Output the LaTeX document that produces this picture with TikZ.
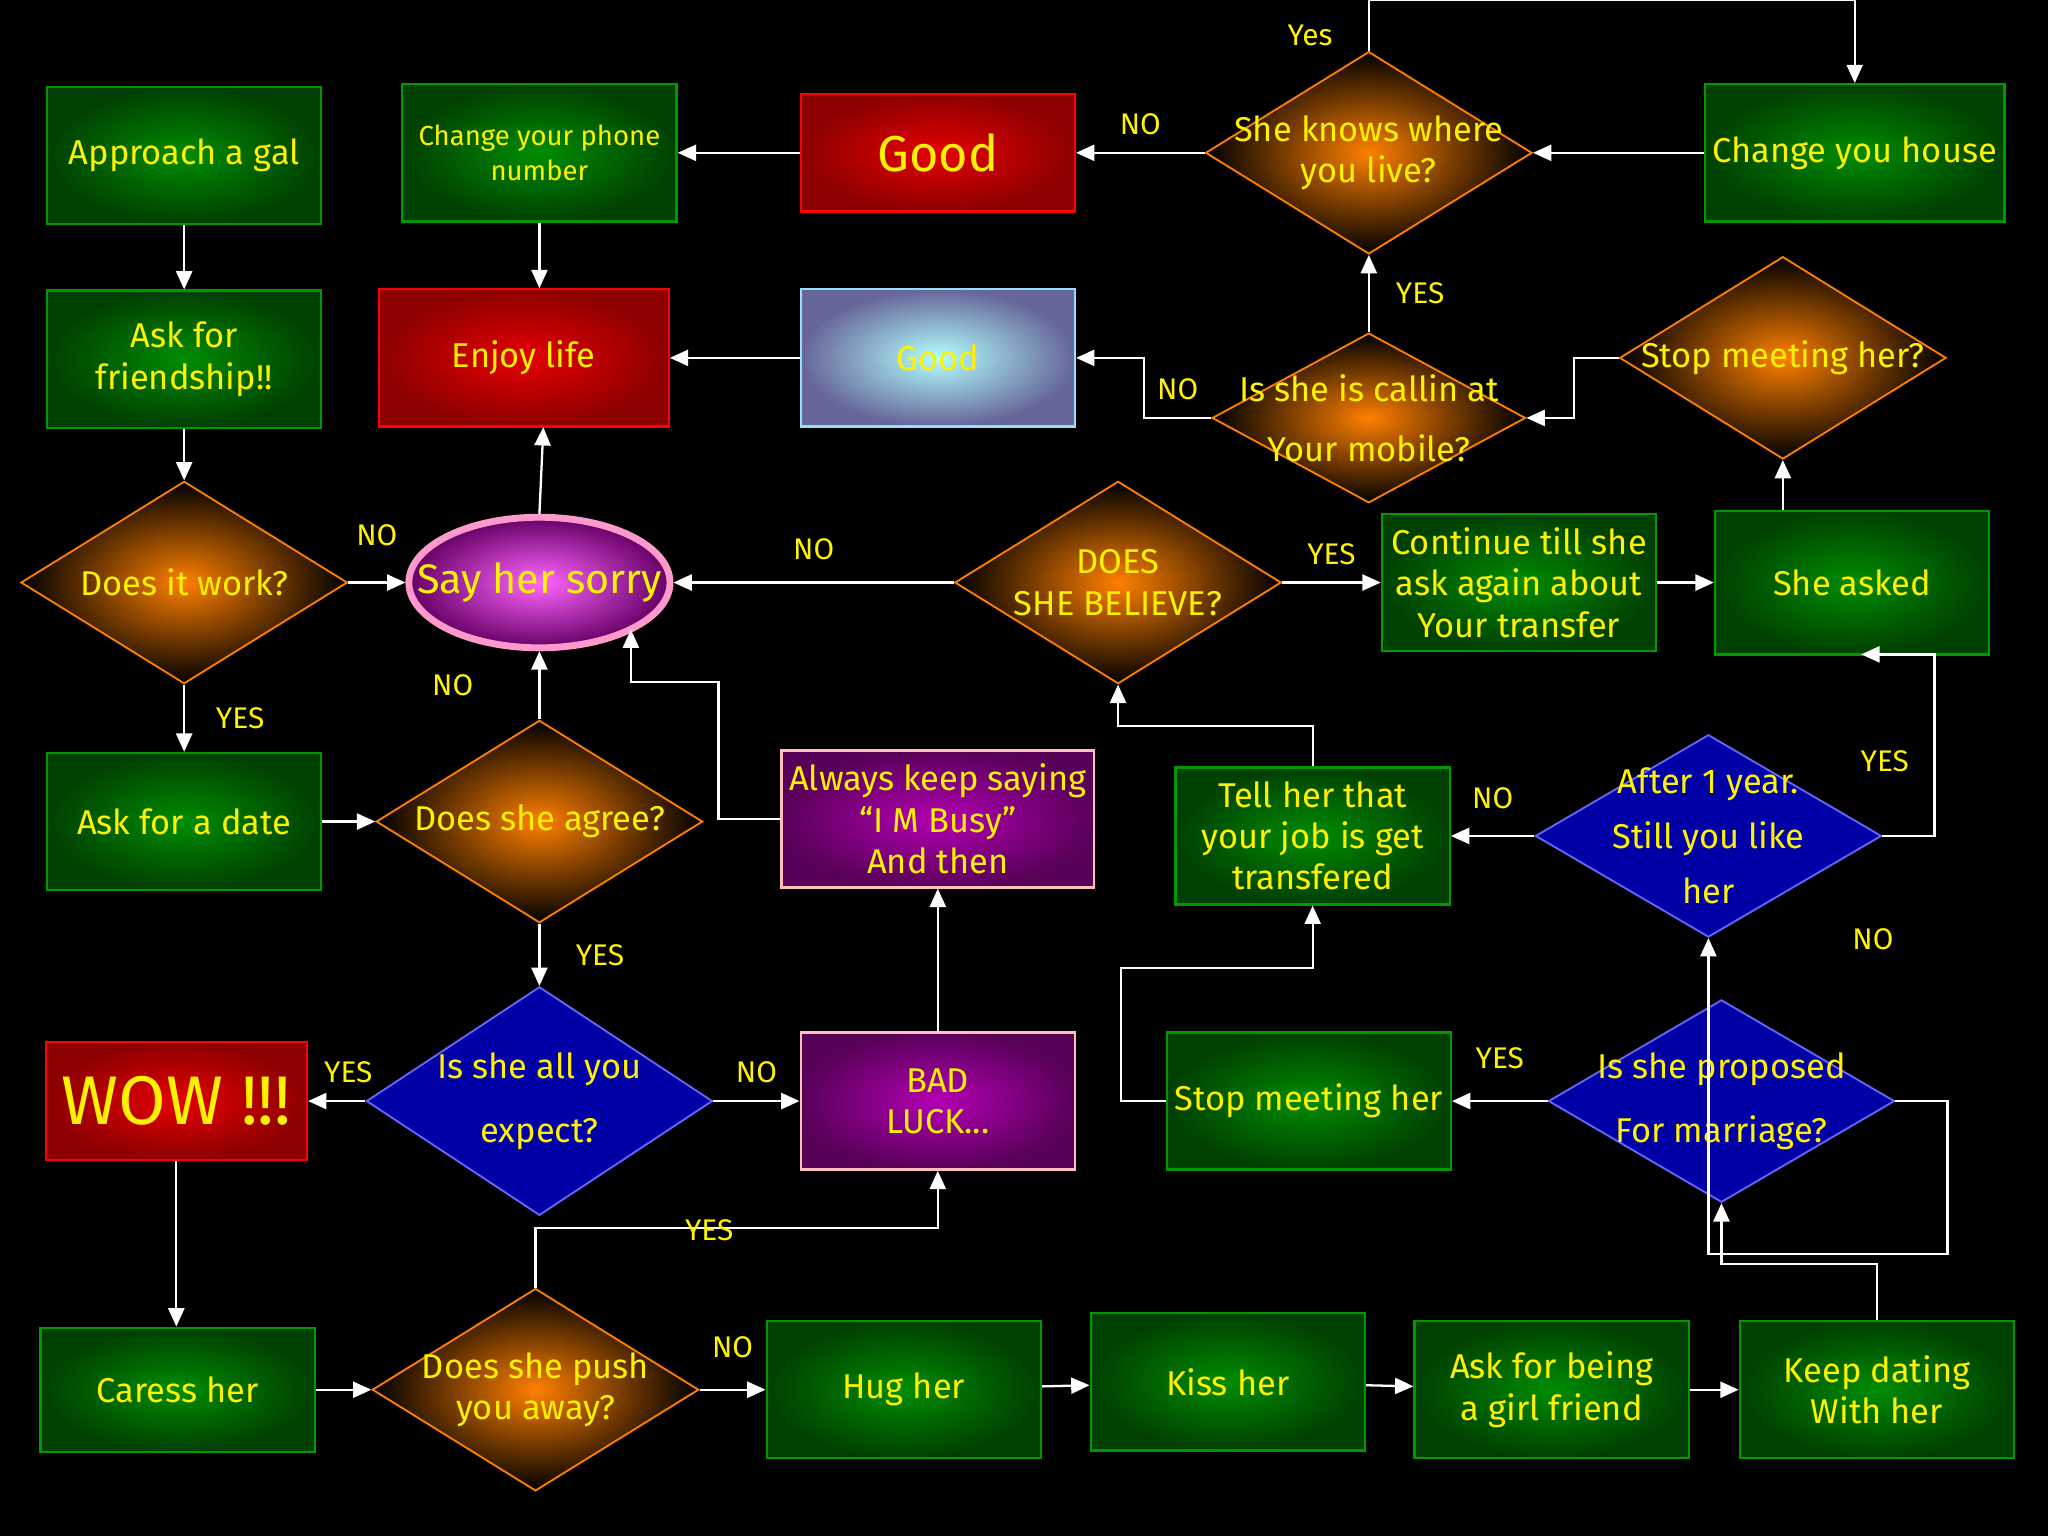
\documentclass[tikz,border=0pt]{standalone}
\usepackage{fontspec}
\setmainfont{Fira Sans}
\usetikzlibrary{shapes.geometric,arrows.meta}
\begin{document}
\begin{tikzpicture}[x=0.02cm,y=-0.02cm,
 txt/.style={text=yellow,font=\fontsize{15}{18}\selectfont,align=center},
 gbox/.style={txt,rectangle,draw=green!60!black,line width=1pt,inner color=green!55!black,outer color=green!25!black,minimum width=4.2cm,minimum height=2.1cm},
 rbox/.style={txt,rectangle,draw=red,line width=1pt,inner color=red!90!black,outer color=red!55!black,minimum width=4.2cm,minimum height=2.1cm},
 pbox/.style={txt,rectangle,draw=pink,line width=1pt,inner color=magenta!70!black,outer color=magenta!35!black,minimum width=4.2cm,minimum height=2.1cm},
 bbox/.style={txt,rectangle,draw=cyan!40,line width=1pt,inner color=cyan!30!white,outer color=blue!20!gray,minimum width=4.2cm,minimum height=2.1cm},
 odia/.style={diamond,draw=orange,line width=0.8pt,inner color=orange,outer color=black,minimum width=5cm,minimum height=3.1cm,inner sep=0pt,label={[txt]center:#1}},
 bdia/.style={diamond,draw=blue!60,line width=0.8pt,fill=blue!65!black,minimum width=5.3cm,minimum height=3.1cm,inner sep=0pt,label={[txt]center:#1}},
 lab/.style={text=yellow,font=\fontsize{13}{15}\selectfont},
 ar/.style={draw=white,line width=1pt,-{Triangle[width=7pt,length=8pt]}}]
\fill[black] (0,0) rectangle (1568,1176);
\useasboundingbox (0,0) rectangle (1568,1176);
\node[gbox] (approach) at (141,119) {Approach a gal};
\node[gbox,font=\fontsize{12}{15}\selectfont] (phone) at (413,117) {Change your phone\\ number};
\node[rbox,minimum height=1.8cm,font=\fontsize{22}{26}\selectfont] (good1) at (718,117) {Good};
\node[odia={She knows where\\ you live?}] (knows) at (1048,117) {};
\node[gbox] (house) at (1420,117) {Change you house};
\node[gbox] (friend) at (141,275) {Ask for\\ friendship!!};
\node[rbox,minimum width=4.44cm] (enjoy) at (401,274) {Enjoy life};
\node[bbox] (good2) at (718,274) {Good};
\node[odia={Is she is callin at\\[8pt] Your mobile?},minimum width=4.8cm,minimum height=2.6cm] (calling) at (1048,320) {};
\node[odia={Stop meeting her?}] (stopq) at (1365,274) {};
\node[odia={Does it work?}] (work) at (141,446) {};
\node[ellipse,draw=pink!80!magenta,line width=3pt,inner color=magenta!60,outer color=magenta!40!black,minimum width=4cm,minimum height=2cm,label={[txt,font=\fontsize{18}{21}\selectfont]center:Say her sorry}] (sorry) at (413,446) {};
\node[odia={DOES\\ SHE BELIEVE?}] (believe) at (856,446) {};
\node[gbox] (cont) at (1163,446) {Continue till she\\ ask again about\\ Your transfer};
\node[gbox,minimum height=2.2cm] (asked) at (1418,446) {She asked};
\node[gbox] (date) at (141,629) {Ask for a date};
\node[odia={Does she agree?}] (agree) at (413,629) {};
\node[pbox] (busy) at (718,627) {Always keep saying\\ “I M Busy”\\ And then};
\node[gbox] (tell) at (1005,640) {Tell her that\\ your job is get\\ transfered};
\node[bdia={After 1 year.\\[6pt] Still you like\\[6pt] her}] (after) at (1308,640) {};
\node[rbox,minimum width=4cm,minimum height=1.8cm,font=\fontsize{30}{34}\selectfont] (wow) at (135,843) {WOW !!!};
\node[bdia={Is she all you\\[10pt] expect?},minimum height=3.5cm] (expect) at (413,843) {};
\node[pbox] (bad) at (718,843) {BAD\\ LUCK...};
\node[gbox] (stopher) at (1002,843) {Stop meeting her};
\node[bdia={Is she proposed\\[10pt] For marriage?}] (prop) at (1318,843) {};
\node[gbox,minimum height=1.9cm] (caress) at (136,1064) {Caress her};
\node[odia={Does she push\\ you away?}] (push) at (410,1064) {};
\node[gbox] (hug) at (692,1064) {Hug her};
\node[gbox] (kiss) at (940,1058) {Kiss her};
\node[gbox] (gf) at (1188,1064) {Ask for being\\ a girl friend};
\node[gbox] (keep) at (1437,1064) {Keep dating\\ With her};
% edges
\draw[ar] (approach) -- (friend);
\draw[ar] (friend) -- (work);
\draw[ar] (work) -- node[lab,above=12pt]{NO} (sorry);
\draw[ar] (work.south) -- node[lab,right=10pt]{YES} (date.north -| work.south);
\draw[ar] (date) -- (agree);
\draw[ar] (agree) -- node[lab,left=25pt]{NO} (sorry);
\draw[ar] (agree) -- node[lab,right=12pt]{YES} (expect);
\draw[ar] (expect) -- node[lab,above=4pt,pos=0.3]{YES} (wow);
\draw[ar] (expect) -- node[lab,above=4pt]{NO} (bad);
\draw[ar] (wow.south) -- (caress.north -| wow.south);
\draw[ar] (caress) -- (push);
\draw[ar] (push) -- node[lab,above=10pt]{NO} (hug);
\draw[ar] (push.north) |- (600,940) -| (bad.south);
\node[lab] at (543,942) {YES};
\draw[ar] (bad) -- (busy);
\draw[ar] (busy.west) -| (550,522) -| (483,482);
\draw[ar] (sorry.north) -- (416,327);
\draw[ar] (phone.south) -- (enjoy.north -| phone.south);
\draw[ar] (good1) -- (phone);
\draw[ar] (knows) -- node[lab,above=4pt]{NO} (good1);
\draw[ar] (house) -- (knows);
\draw[ar] (knows.north) -- (1048,0) node[lab,pos=0.3,left=12pt]{Yes} -| (house.north);
\draw[ar] (calling.north) -- node[lab,right=8pt]{YES} (knows.south);
\draw[ar] (calling.west) -| (876,274) node[lab,pos=0.25,above=4pt]{NO} -- (good2.east);
\draw[ar] (good2) -- (enjoy);
\draw[ar] (stopq.west) -| (1205,320) -- (calling.east);
\draw[ar] (asked.north -| stopq.south) -- (stopq.south);
\draw[ar] (believe) -- node[lab,above=6pt]{NO} (sorry);
\draw[ar] (believe) -- node[lab,above=4pt]{YES} (cont);
\draw[ar] (cont) -- (asked);
\draw[ar] (after.east) -| (1481,501) -- (1425,501);
\node[lab] at (1443,583) {YES};
\draw[ar] (after) -- node[lab,above=8pt]{NO} (tell);
\draw[ar] (tell.north) |- (856,556) -- (believe.south);
\draw[ar] (stopher.west) -| (858,741) -| (tell.south);
\draw[ar] (prop) -- node[lab,above=10pt]{YES} (stopher);
\draw[ar] (prop.east) -| (1491,960) -| (after.south);
\node[lab] at (1434,719) {NO};
\draw[ar] (keep.north) |- (1318,968) -- (prop.south);
\draw[ar] (hug) -- (kiss);
\draw[ar] (kiss) -- (gf);
\draw[ar] (gf) -- (keep);
\end{tikzpicture}
\end{document}
